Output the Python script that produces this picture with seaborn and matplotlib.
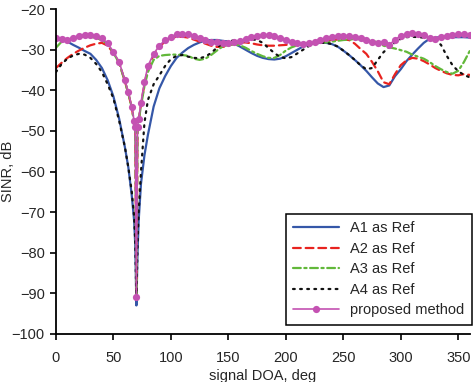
import numpy as np
import pandas as pd
import matplotlib
matplotlib.use("Agg")
import matplotlib.pyplot as plt
import seaborn as sns

doa = [0, 5, 10, 15, 20, 25, 30, 35, 40, 45, 50, 55, 60, 63, 66, 68, 69, 70, 71, 72, 74, 77,
       80, 85, 90, 95, 100, 105, 110, 115, 120, 125, 130, 135, 140, 145, 150, 155, 160, 165,
       170, 175, 180, 185, 190, 195, 200, 205, 210, 215, 220, 225, 230, 235, 240, 245, 250,
       255, 260, 265, 270, 275, 280, 285, 290, 295, 300, 305, 310, 315, 320, 325, 330, 335,
       340, 345, 350, 355, 360]

a1_ref = [-27.3, -27.6, -28.0, -28.8, -29.5, -30.3, -31.0, -32.5, -34.5, -37.5, -41.5, -47.0,
          -54.0, -59.0, -66.0, -72.0, -78.0, -93.0, -80.0, -72.0, -63.0, -56.0,
          -51.0, -44.0, -39.5, -36.5, -34.0, -32.0, -30.7, -29.6, -28.8, -28.2, -27.7, -27.6,
          -27.6, -27.8, -28.0, -28.5, -29.2, -30.0, -30.8, -31.5, -32.0, -32.3, -32.4, -32.2,
          -31.6, -30.8, -30.0, -29.2, -28.7, -28.4, -28.3, -28.3, -28.6, -29.2, -30.2, -31.3,
          -32.5, -33.8, -35.2, -36.8, -38.3, -39.2, -38.8, -36.5, -34.8, -32.8, -31.2, -29.7,
          -28.3, -27.3, -27.0, -26.9, -26.9, -26.9, -26.9, -26.9, -27.0]

a2_ref = [-34.5, -33.2, -32.0, -31.0, -30.2, -29.5, -28.9, -28.5, -28.3, -29.0, -30.8, -33.2,
          -37.8, -40.8, -44.3, -47.8, -50.0, -91.0, -50.0, -47.5, -43.5, -38.5,
          -34.5, -31.3, -29.3, -27.9, -27.1, -26.8, -26.8, -27.0, -27.5, -28.0, -28.5, -29.0,
          -29.3, -29.3, -29.0, -28.5, -28.2, -28.2, -28.4, -28.7, -28.9, -29.0, -29.0, -28.9,
          -28.8, -28.7, -28.6, -28.5, -28.4, -28.2, -28.0, -27.8, -27.6, -27.5, -27.5, -27.6,
          -28.5, -29.8, -31.0, -33.0, -35.3, -38.0, -38.5, -36.0, -33.8, -32.6, -32.0, -32.2,
          -32.8, -33.6, -34.5, -35.2, -35.8, -36.2, -36.3, -36.0, -36.2]

a3_ref = [-29.5, -28.0, -27.6, -27.3, -26.9, -26.7, -26.8, -27.1, -27.6, -28.6, -30.8, -33.2,
          -37.8, -40.8, -44.3, -47.8, -50.0, -91.0, -50.0, -47.5, -43.8, -39.0,
          -35.5, -32.5, -31.5, -31.3, -31.2, -31.2, -31.3, -31.5, -32.2, -32.5, -32.2, -31.3,
          -30.2, -29.2, -28.8, -28.7, -28.9, -29.5, -30.3, -31.0, -31.6, -32.0, -32.0, -31.3,
          -30.2, -29.4, -28.9, -28.6, -28.5, -28.4, -28.3, -28.2, -28.0, -27.8, -27.6, -27.5,
          -27.4, -27.4, -27.5, -27.8, -28.2, -29.0, -29.4, -29.7, -30.1, -30.5, -31.2, -31.7,
          -32.2, -33.0, -34.0, -34.8, -35.5, -35.9, -35.2, -33.0, -30.3]

a4_ref = [-35.5, -33.5, -32.2, -31.4, -31.0, -31.2, -32.0, -33.5, -35.5, -38.5, -42.0, -47.5,
          -54.0, -59.0, -65.0, -71.0, -77.0, -92.0, -78.0, -70.0, -60.0, -48.0,
          -42.4, -38.5, -36.3, -34.0, -32.3, -31.5, -31.3, -31.7, -32.0, -32.1, -31.7, -30.8,
          -29.5, -28.4, -27.9, -27.7, -27.6, -27.5, -27.4, -27.6, -28.3, -29.6, -30.8, -31.8,
          -32.1, -31.8, -30.9, -30.0, -29.1, -28.6, -28.3, -28.3, -28.6, -29.2, -30.2, -31.3,
          -32.5, -33.8, -34.8, -34.5, -32.5, -30.6, -29.3, -28.2, -27.3, -26.9, -26.8, -26.9,
          -27.0, -27.3, -27.6, -28.8, -31.5, -33.8, -35.3, -36.2, -36.8]

proposed = [-27.0, -27.3, -27.5, -27.0, -26.5, -26.3, -26.3, -26.6, -27.2, -28.4, -30.5, -33.0,
            -37.5, -40.5, -44.0, -47.5, -49.0, -91.0, -49.0, -47.0, -43.0, -38.0,
            -34.0, -31.0, -29.0, -27.6, -26.8, -26.2, -26.1, -26.2, -26.6, -27.1, -27.6, -28.0,
            -28.2, -28.3, -28.3, -28.2, -27.8, -27.3, -26.8, -26.5, -26.4, -26.4, -26.6, -27.0,
            -27.6, -28.1, -28.4, -28.5, -28.4, -28.1, -27.6, -27.1, -26.8, -26.6, -26.5, -26.6,
            -26.8, -27.2, -27.6, -28.0, -28.4, -28.0, -28.8, -27.5, -26.6, -26.1, -25.9, -26.0,
            -26.4, -27.0, -27.3, -26.9, -26.5, -26.3, -26.2, -26.2, -26.4]

series = [
    ("A1 as Ref", a1_ref, "#3557a8", "-"),
    ("A2 as Ref", a2_ref, "#e8231f", (0, (3.5, 2.2))),
    ("A3 as Ref", a3_ref, "#62b83a", (0, (3.5, 1.6, 1.0, 1.6))),
    ("A4 as Ref", a4_ref, "#111111", (0, (0.8, 2.4))),
]

sns.set_style("ticks")
plt.rcParams['font.family'] = ['Liberation Sans', 'DejaVu Sans']

fig, ax = plt.subplots(figsize=(4.74, 3.82), dpi=100)
fig.subplots_adjust(left=0.118, right=0.991, bottom=0.126, top=0.976)

for name, vals, col, ls in series:
    sns.lineplot(x=doa, y=vals, ax=ax, color=col, linestyle=ls, linewidth=1.6,
                 label=name, dash_capstyle='round')
sns.lineplot(x=doa, y=proposed, ax=ax, color="#c452b2", linewidth=1.2, marker='o',
             markersize=5.2, markeredgewidth=0, label="proposed method")

ax.set_xlim(0, 360)
ax.set_ylim(-100, -20)
ax.set_xticks(range(0, 351, 50))
ax.set_yticks(range(-100, -19, 10))
ax.set_yticklabels([f"\u2212{abs(v)}" for v in range(-100, -19, 10)])
ax.tick_params(labelsize=10.5, width=1.2, length=4, color='black', direction='out')
ax.tick_params(axis='x', pad=8)
ax.tick_params(axis='y', pad=4)
for s in ['left', 'bottom']:
    ax.spines[s].set_linewidth(1.3)
    ax.spines[s].set_color('black')
sns.despine(ax=ax)

ax.set_xlabel("signal DOA, deg", fontsize=10.5, labelpad=3)
ax.set_ylabel("SINR, dB", fontsize=10.5)
ax.yaxis.set_label_coords(-0.098, 0.5)

leg = ax.legend(loc='lower right', bbox_to_anchor=(1.005, 0.028), borderaxespad=0,
                fontsize=10.5, handlelength=3.1, fancybox=False, framealpha=1,
                edgecolor='black', labelspacing=0.45, borderpad=0.5)
leg.get_frame().set_linewidth(1.1)

plt.savefig("out.png", dpi=100)
plt.close()
